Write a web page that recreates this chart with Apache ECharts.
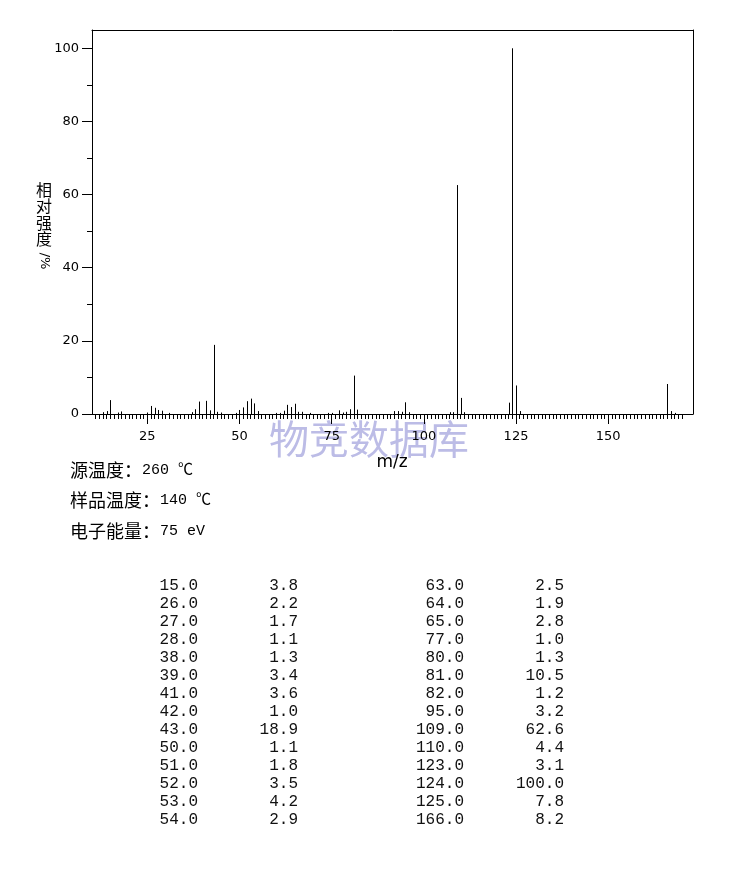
<!DOCTYPE html>
<html>
<head>
<meta charset="utf-8">
<script src="https://cdn.jsdelivr.net/npm/echarts@6/dist/echarts.min.js"></script>
<style>
html,body{margin:0;padding:0;background:#fff;}
#main{width:737px;height:879px;}
</style>
</head>
<body>
<div id="main"></div>
<script>
// ---- data ----
const tableMz = [15,26,27,28,38,39,41,42,43,50,51,52,53,54,63,64,65,77,80,81,82,95,109,110,123,124,125,166];
const tableInt = [3.8,2.2,1.7,1.1,1.3,3.4,3.6,1.0,18.9,1.1,1.8,3.5,4.2,2.9,2.5,1.9,2.8,1.0,1.3,10.5,1.2,3.2,62.6,4.4,3.1,100.0,7.8,8.2];
// small peaks visible in the plot but not listed in the table (estimated)
const minorMz = [13,14,17,18,25,29,31,37,44,45,49,55,60,61,62,66,67,69,74,75,78,79,92,93,94,96,107,108,111,126,167,168];
const minorInt = [0.5,0.8,0.4,0.7,0.4,0.9,0.3,0.5,0.6,0.4,0.3,0.8,0.3,0.3,0.9,0.6,0.6,0.3,0.3,0.3,0.4,0.6,0.8,0.8,0.6,0.5,0.5,0.5,0.5,0.8,0.8,0.3];
const xTickLabels = [25,50,75,100,125,150];
const yTickLabels = [0,20,40,60,80,100];
const yMinorTicks = [10,30,50,70,90];
const xMinorTicks = [];
for (let v = 11; v <= 170; v++) xMinorTicks.push(v);
const infoLabels = ['源温度：','样品温度：','电子能量：'];
const infoValues = ['260 ℃','140 ℃','75 eV'];
const yTitle = '相\n对\n强\n度';
const yUnit = '/%';
const xTitle = 'm/z';
const watermark = '物竞数据库';

// ---- chart ----
const chart = echarts.init(document.getElementById('main'), null, {renderer:'canvas'});
const peaks = [];
tableMz.forEach((m,i)=>peaks.push([m, tableInt[i]]));
minorMz.forEach((m,i)=>peaks.push([m, minorInt[i]]));

const axisFont = {fontFamily:'DejaVu Sans', fontSize:13, color:'#000'};
const black = {color:'#000', width:1};

const graphics = [];
graphics.push({type:'text', x:369, y:439, z:-10, silent:true,
  style:{text:watermark, font:"40px 'Noto Sans CJK SC'", fill:'#bcbce6', align:'center', verticalAlign:'middle'}});
graphics.push({type:'text', x:392, y:463, z:10,
  style:{text:xTitle, font:"17px 'DejaVu Sans'", fill:'#000', align:'center', verticalAlign:'middle'}});
graphics.push({type:'text', x:44, y:181.5, z:10,
  style:{text:yTitle, font:"16px 'Noto Sans CJK SC'", lineHeight:16.5, fill:'#000', align:'center', verticalAlign:'top'}});
graphics.push({type:'text', x:44, y:261, rotation:-Math.PI/2, z:10,
  style:{text:yUnit, font:"13px 'DejaVu Sans'", fill:'#000', align:'center', verticalAlign:'middle'}});
const infoY = [470, 500, 531];
infoLabels.forEach((t,i)=>{
  graphics.push({type:'text', x:70, y:infoY[i], z:10,
    style:{text:t, font:"18px 'Noto Sans CJK SC'", fill:'#000', align:'left', verticalAlign:'middle'}});
  graphics.push({type:'text', x:70 + t.length*18, y:infoY[i], z:10,
    style:{text:infoValues[i], font:"15px 'Liberation Mono', 'Noto Sans CJK SC'", fill:'#000', align:'left', verticalAlign:'middle'}});
});
const half = 14;
const colX = [198, 298, 464, 564];
for (let i = 0; i < tableMz.length; i++) {
  const c = i < half ? 0 : 2;
  const r = i % half;
  const y = 586 + 18*r;
  graphics.push({type:'text', x:colX[c], y:y, z:10,
    style:{text:tableMz[i].toFixed(1), font:"16px 'Liberation Mono'", fill:'#111', align:'right', verticalAlign:'middle'}});
  graphics.push({type:'text', x:colX[c+1], y:y, z:10,
    style:{text:tableInt[i].toFixed(1), font:"16px 'Liberation Mono'", fill:'#111', align:'right', verticalAlign:'middle'}});
}

const option = {
  animation:false,
  backgroundColor:'#fff',
  grid:{left:92, top:30, width:601, height:384, containLabel:false},
  xAxis:[
    {type:'value', min:10, max:173, position:'bottom',
      axisLine:{show:true, onZero:false, lineStyle:black},
      axisTick:{show:true, customValues:xMinorTicks, length:5, lineStyle:black},
      axisLabel:{show:false}, splitLine:{show:false}},
    {type:'value', min:10, max:173, position:'bottom',
      axisLine:{show:false, onZero:false},
      axisTick:{show:true, customValues:xTickLabels, length:10, lineStyle:black},
      axisLabel:Object.assign({show:true, customValues:xTickLabels, margin:16}, axisFont),
      splitLine:{show:false}},
    {type:'value', min:10, max:173, position:'top',
      axisLine:{show:true, onZero:false, lineStyle:black},
      axisTick:{show:false}, axisLabel:{show:false}, splitLine:{show:false}}
  ],
  yAxis:[
    {type:'value', min:0, max:105, position:'left',
      axisLine:{show:true, onZero:false, lineStyle:black},
      axisTick:{show:true, customValues:yTickLabels, length:10, lineStyle:black},
      axisLabel:Object.assign({show:true, customValues:yTickLabels, margin:13}, axisFont),
      splitLine:{show:false}},
    {type:'value', min:0, max:105, position:'left',
      axisLine:{show:false, onZero:false},
      axisTick:{show:true, customValues:yMinorTicks, length:5, lineStyle:black},
      axisLabel:{show:false}, splitLine:{show:false}},
    {type:'value', min:0, max:105, position:'right',
      axisLine:{show:true, onZero:false, lineStyle:black},
      axisTick:{show:false}, axisLabel:{show:false}, splitLine:{show:false}}
  ],
  series:[{
    type:'custom', xAxisIndex:0, yAxisIndex:0, data:peaks, clip:true,
    renderItem:function(params, api){
      const p0 = api.coord([api.value(0), 0]);
      const p1 = api.coord([api.value(0), api.value(1)]);
      const px = Math.round(p0[0]) + 0.5;
      return {type:'line', shape:{x1:px, y1:p0[1], x2:px, y2:p1[1]},
        style:{stroke:'#000', lineWidth:1}};
    }
  }],
  graphic:graphics
};
chart.setOption(option);
</script>
</body>
</html>
